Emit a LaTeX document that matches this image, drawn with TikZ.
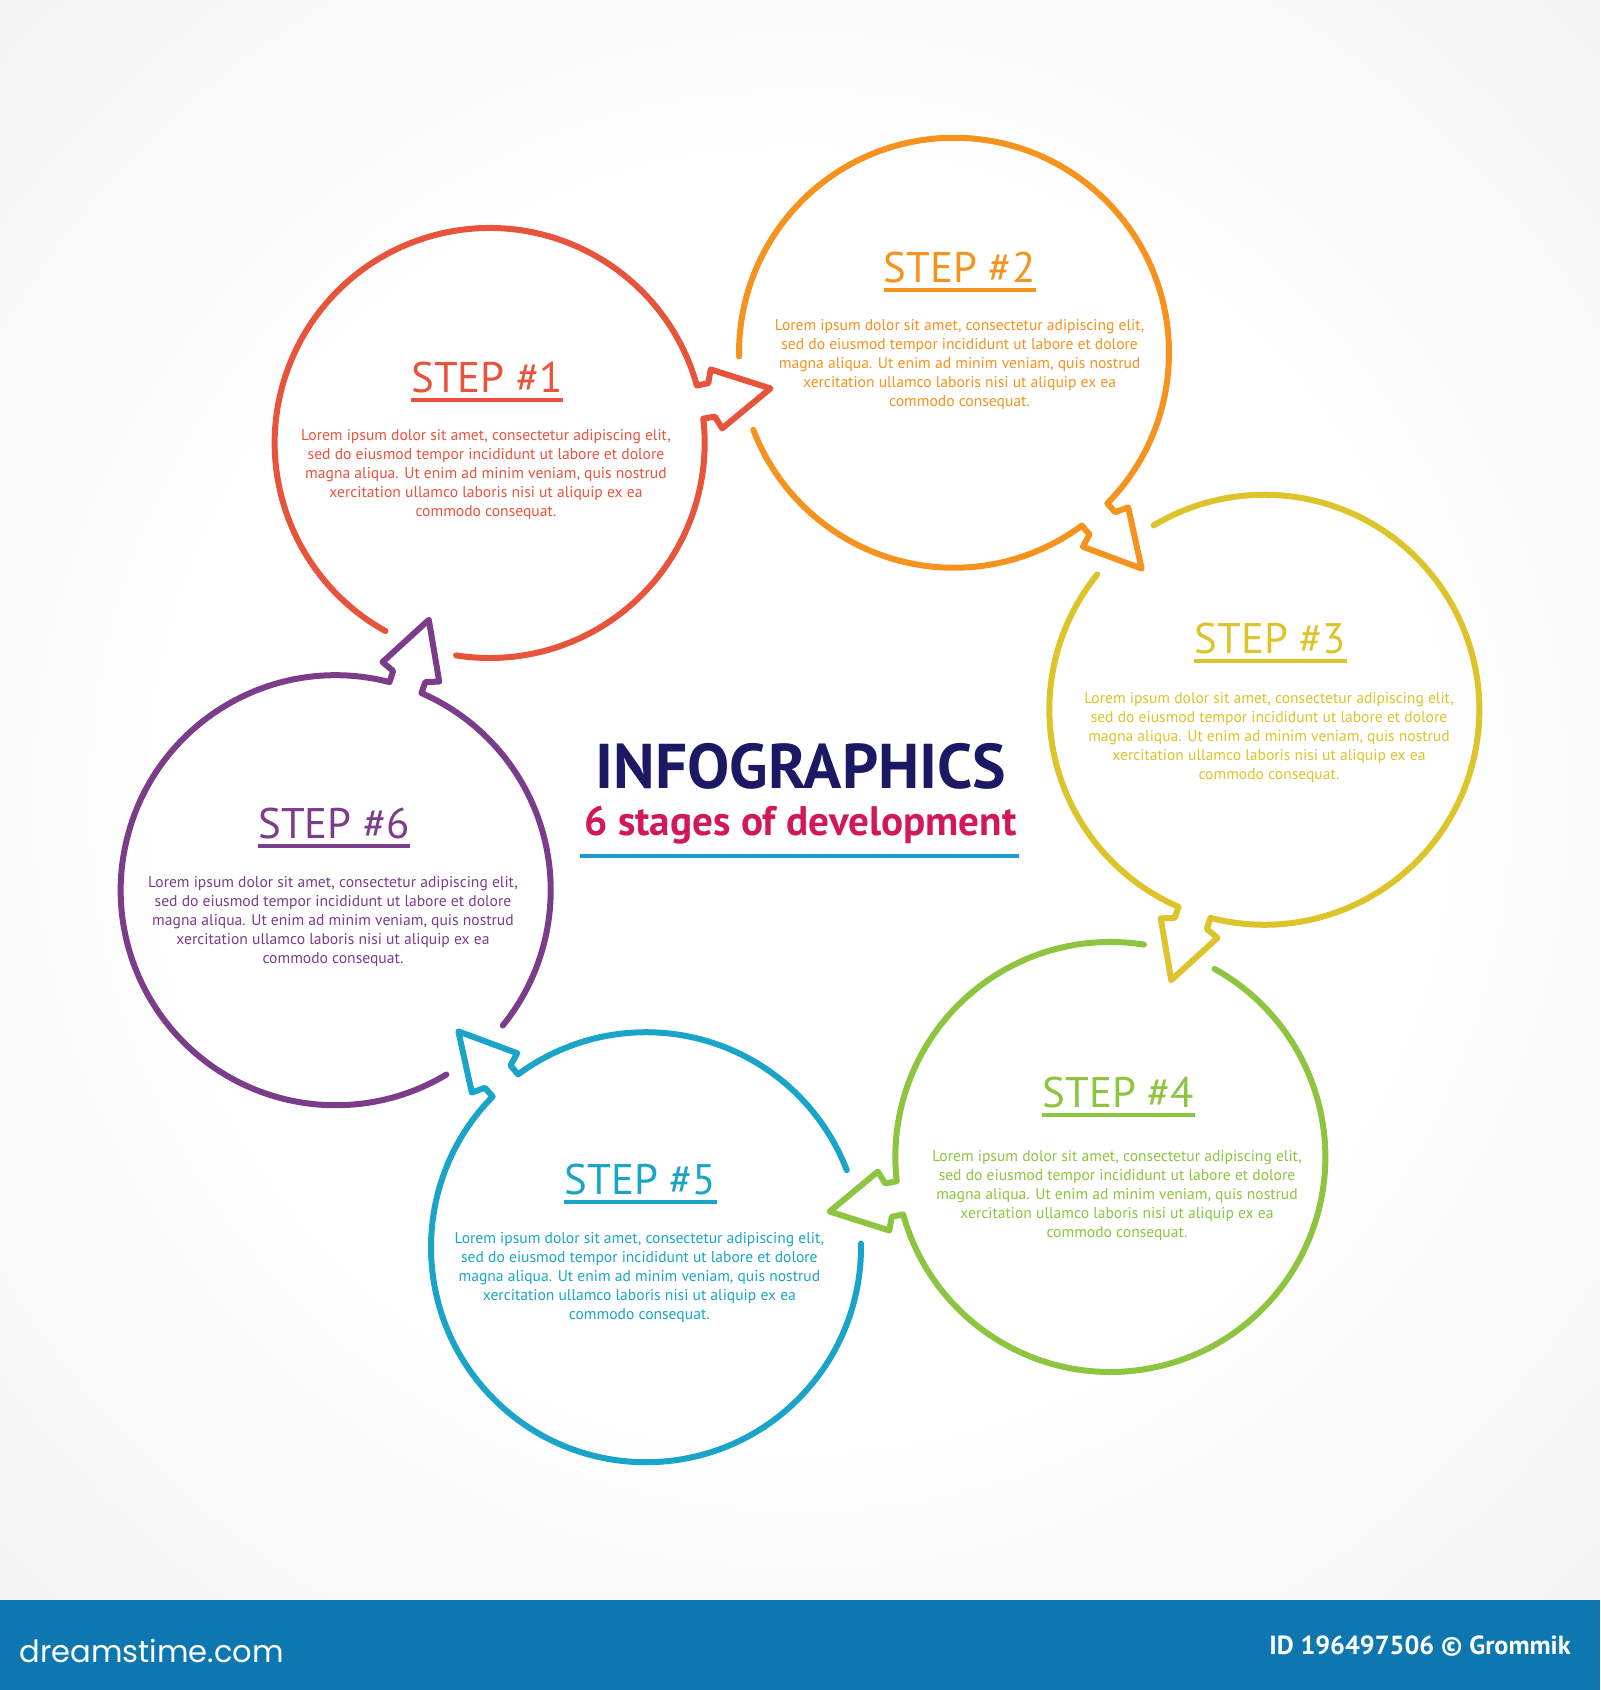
\documentclass[tikz,border=0pt]{standalone}
\usepackage{fontspec}
\setmainfont{PT Sans}
\newfontfamily\logofont{Poppins}
\usetikzlibrary{calc}
\definecolor{col1}{HTML}{E8533C}
\definecolor{col2}{HTML}{F6921E}
\definecolor{col3}{HTML}{DCC42A}
\definecolor{col4}{HTML}{8DC540}
\definecolor{col5}{HTML}{1AA5C8}
\definecolor{col6}{HTML}{7B3C8A}
\definecolor{navy}{HTML}{1B1864}
\definecolor{crimson}{HTML}{D2185A}
\definecolor{lineblue}{HTML}{1E9AD6}
\definecolor{barblue}{HTML}{0F77B0}
\definecolor{bgmid}{HTML}{ECECEC}
\definecolor{bggrey}{HTML}{E2E2E2}
\pgfdeclareradialshading{bgshade}{\pgfpoint{0bp}{0bp}}{color(0bp)=(white); color(18bp)=(white); color(50bp)=(bgmid); color(71bp)=(bggrey)}
\begin{document}
\begin{tikzpicture}[x=0.5pt,y=0.5pt,
  ring/.style={line width=3pt, line join=round, line cap=round},
  steptitle/.style={font=\fontsize{21.4}{26}\selectfont, inner sep=0pt, anchor=base},
  bodyline/.style={font=\fontsize{7.8}{9.5}\selectfont, inner sep=0pt, anchor=base},
  uline/.style={line width=1.75pt}]
\useasboundingbox (0,0) rectangle (1600,1690);
\shade[shading=bgshade] (0,90) rectangle (1600,1690);
\fill[barblue] (0,0) rectangle (1600,90);
% circle centres
\foreach \k/\ph in {1/131,2/71,3/11,4/-49,5/-109,6/-169}{
  \coordinate (c\k) at ({800+473*cos(\ph)},{890+473*sin(\ph)});
}
% circles with outgoing arrows and incoming gaps
\foreach \k/\ph in {1/131,2/71,3/11,4/-49,5/-109,6/-169}{
  \begin{scope}[shift={(c\k)}, rotate=\ph-120]
    \draw[ring, col\k] (250:215) arc[start angle=250,end angle=355.5,radius=215]
      -- (226,-17) -- (231,-30) -- (286,0) -- (231,30) -- (226,17)
      -- (4.5:215) arc[start angle=4.5,end angle=230,radius=215];
  \end{scope}
}
% step titles
\foreach \k/\x/\y in {1/487/1297,2/959.6/1407,3/1270.5/1036,4/1118.5/582,5/640.4/495,6/334.2/851}{
  \node[steptitle, text=col\k] (t\k) at (\x,\y) {STEP \#\k};
  \draw[uline, col\k] ([yshift=-3.5pt]t\k.base west) -- ([yshift=-3.5pt]t\k.base east);
}
% body texts
\foreach \k/\x/\y in {1/486/1249,2/959.6/1359,3/1269/986,4/1117/528,5/639.4/446,6/333/802}{
  \foreach \t [count=\j] in {{Lorem ipsum dolor sit amet, consectetur adipiscing elit,},
      {sed do eiusmod tempor incididunt ut labore et dolore},
      {magna aliqua. Ut enim ad minim veniam, quis nostrud},
      {xercitation ullamco laboris nisi ut aliquip ex ea},
      {commodo consequat.}}{
    \node[bodyline, text=col\k] (b\k-\j) at (\x,{\y-(\j-1)*19}) {\t};
  }
}
% central title
\node[font=\bfseries\fontsize{31.6}{36}\selectfont, text=navy, anchor=base, inner sep=0pt] (title) at (801,901) {INFOGRAPHICS};
\node[font=\bfseries\fontsize{20.6}{24}\selectfont, text=crimson, anchor=base, inner sep=0pt] (sub) at (800.5,854) {6 stages of development};
\coordinate (ulA) at (580,834);
\coordinate (ulB) at (1019,834);
\draw[lineblue, line width=2pt] (ulA) -- (ulB);
% footer
\node[font=\logofont\fontsize{15.3}{19}\selectfont, text=white, anchor=base west, inner sep=0pt] (logo) at (19,27) {dreamstime.com};
\node[font=\bfseries\fontsize{13.1}{16}\selectfont, text=white, anchor=base east, inner sep=0pt] (id) at (1571,35) {ID 196497506 © Grommik};
\end{tikzpicture}
\end{document}
